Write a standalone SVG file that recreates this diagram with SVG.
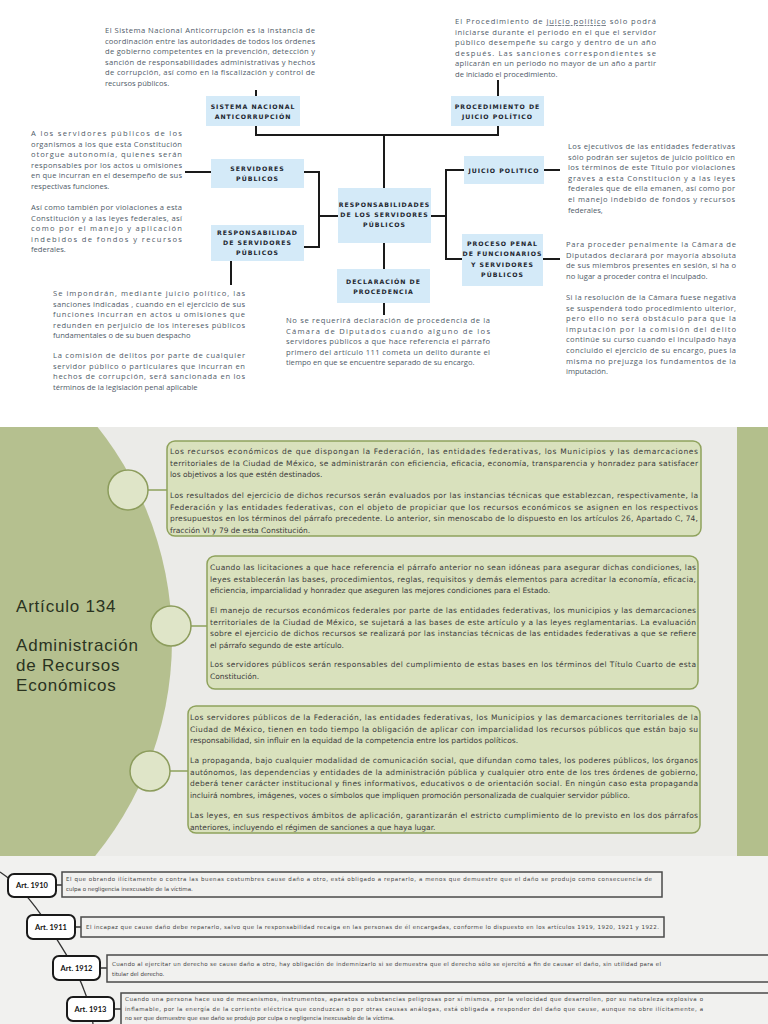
<svg xmlns="http://www.w3.org/2000/svg" width="768" height="1024" viewBox="0 0 768 1024">
<defs>
<style>
.t{font-family:"Open Sans","Liberation Sans",sans-serif;font-size:7.6px;fill:#4f5b68}
.bx{fill:#d4eaf8}
.bt{font-family:"DejaVu Sans","Liberation Sans",sans-serif;font-weight:bold;font-size:6.2px;letter-spacing:1px;fill:#1e2730;text-anchor:middle}
.cn{fill:none;stroke:#1a1a1a;stroke-width:2}
.g{font-family:"DejaVu Sans","Liberation Sans",sans-serif;font-size:7.5px;fill:#3c3c3c}
.gb{fill:#d9e1bd;stroke:#8fa25c;stroke-width:1.5}
.sc{fill:#dfe5c8;stroke:#8c9c5c;stroke-width:1.5}
.ttl{font-family:"Liberation Sans","Arial",sans-serif;font-size:17px;letter-spacing:0.8px;fill:#2a331f}
.al{fill:#ffffff;stroke:#1a1a1a;stroke-width:2}
.at{font-family:"Lato","Liberation Sans",sans-serif;font-weight:bold;font-size:7.5px;fill:#111;text-anchor:middle}
.ab{fill:none;stroke:#4a4a4a;stroke-width:1.5}
.s{font-family:"DejaVu Sans","Liberation Sans",sans-serif;font-size:5.5px;fill:#444}
</style>
<clipPath id="gs"><rect x="0" y="427" width="768" height="429"/></clipPath>
</defs>
<rect x="0" y="0" width="768" height="1024" fill="#ffffff"/>

<!-- TOP SECTION -->
<g id="connectors-top">
<path class="cn" d="M256 90V97M498 80V97M256 126V135H498V126M384 135V188"/>
<path class="cn" d="M185 172H211M304 172H319V247H304M319 216H338"/>
<path class="cn" d="M431 216H446M464 170H446V259H462M544 170H560M543 259H560"/>
<path class="cn" d="M384 243V270M384 303V315M231 261V285"/>
</g>

<g id="sna-text">
<text class="t" x="105" y="33" textLength="210" lengthAdjust="spacing">El Sistema Nacional Anticorrupción es la instancia de</text>
<text class="t" x="105" y="43.6" textLength="210" lengthAdjust="spacing">coordinación entre las autoridades de todos los órdenes</text>
<text class="t" x="105" y="54.2" textLength="210" lengthAdjust="spacing">de gobierno competentes en la prevención, detección y</text>
<text class="t" x="105" y="64.8" textLength="210" lengthAdjust="spacing">sanción de responsabilidades administrativas y hechos</text>
<text class="t" x="105" y="75.4" textLength="210" lengthAdjust="spacing">de corrupción, así como en la fiscalización y control de</text>
<text class="t" x="105" y="86">recursos públicos.</text>
</g>

<g id="pjp-text">
<text class="t" x="455" y="24" textLength="201" lengthAdjust="spacing">El Procedimiento de <tspan text-decoration="underline">juicio político</tspan> sólo podrá</text>
<text class="t" x="455" y="34.6" textLength="201" lengthAdjust="spacing">iniciarse durante el periodo en el que el servidor</text>
<text class="t" x="455" y="45.2" textLength="201" lengthAdjust="spacing">público desempeñe su cargo y dentro de un año</text>
<text class="t" x="455" y="55.8" textLength="201" lengthAdjust="spacing">después. Las sanciones correspondientes se</text>
<text class="t" x="455" y="66.4" textLength="201" lengthAdjust="spacing">aplicarán en un periodo no mayor de un año a partir</text>
<text class="t" x="455" y="77">de iniciado el procedimiento.</text>
</g>

<g id="node-sna">
<rect class="bx" x="206" y="96" width="94" height="30"/>
<text class="bt" x="253" y="108.5">SISTEMA NACIONAL</text>
<text class="bt" x="253" y="118.5">ANTICORRUPCIÓN</text>
</g>
<g id="node-pjp">
<rect class="bx" x="451" y="96" width="93" height="30"/>
<text class="bt" x="497.5" y="108.5">PROCEDIMIENTO DE</text>
<text class="bt" x="497.5" y="118.5">JUICIO POLÍTICO</text>
</g>
<g id="node-sp">
<rect class="bx" x="211" y="159" width="93" height="29"/>
<text class="bt" x="257.5" y="171">SERVIDORES</text>
<text class="bt" x="257.5" y="181">PÚBLICOS</text>
</g>
<g id="node-rsp">
<rect class="bx" x="211" y="225" width="93" height="36"/>
<text class="bt" x="257.5" y="235">RESPONSABILIDAD</text>
<text class="bt" x="257.5" y="245">DE SERVIDORES</text>
<text class="bt" x="257.5" y="255">PÚBLICOS</text>
</g>
<g id="node-center">
<rect class="bx" x="338" y="188" width="93" height="55"/>
<text class="bt" x="384.5" y="207">RESPONSABILIDADES</text>
<text class="bt" x="384.5" y="217">DE LOS SERVIDORES</text>
<text class="bt" x="384.5" y="227">PÚBLICOS</text>
</g>
<g id="node-jp">
<rect class="bx" x="464" y="156" width="80" height="28"/>
<text class="bt" x="504" y="172.5">JUICIO POLITICO</text>
</g>
<g id="node-pp">
<rect class="bx" x="462" y="234" width="81" height="52"/>
<text class="bt" x="502.5" y="246">PROCESO PENAL</text>
<text class="bt" x="502.5" y="256">DE FUNCIONARIOS</text>
<text class="bt" x="502.5" y="266.5">Y SERVIDORES</text>
<text class="bt" x="502.5" y="276.5">PÚBLICOS</text>
</g>
<g id="node-dp">
<rect class="bx" x="337" y="269" width="93" height="34"/>
<text class="bt" x="383.5" y="284">DECLARACIÓN DE</text>
<text class="bt" x="383.5" y="294">PROCEDENCIA</text>
</g>

<g id="left-text">
<text class="t" x="31" y="136" textLength="151" lengthAdjust="spacing">A los servidores públicos de los</text>
<text class="t" x="31" y="146.5" textLength="151" lengthAdjust="spacing">organismos a los que esta Constitución</text>
<text class="t" x="31" y="157" textLength="151" lengthAdjust="spacing">otorgue autonomía, quienes serán</text>
<text class="t" x="31" y="167.5" textLength="151" lengthAdjust="spacing">responsables por los actos u omisiones</text>
<text class="t" x="31" y="178" textLength="151" lengthAdjust="spacing">en que incurran en el desempeño de sus</text>
<text class="t" x="31" y="188.5">respectivas funciones.</text>
<text class="t" x="31" y="210" textLength="151" lengthAdjust="spacing">Así como también por violaciones a esta</text>
<text class="t" x="31" y="220.5" textLength="151" lengthAdjust="spacing">Constitución y a las leyes federales, así</text>
<text class="t" x="31" y="231" textLength="151" lengthAdjust="spacing">como por el manejo y aplicación</text>
<text class="t" x="31" y="241.5" textLength="151" lengthAdjust="spacing">indebidos de fondos y recursos</text>
<text class="t" x="31" y="252">federales.</text>
</g>

<g id="jp-text">
<text class="t" x="568" y="149" textLength="167" lengthAdjust="spacing">Los ejecutivos de las entidades federativas</text>
<text class="t" x="568" y="159.6" textLength="167" lengthAdjust="spacing">sólo podrán ser sujetos de juicio político en</text>
<text class="t" x="568" y="170.2" textLength="167" lengthAdjust="spacing">los términos de este Título por violaciones</text>
<text class="t" x="568" y="180.8" textLength="167" lengthAdjust="spacing">graves a esta Constitución y a las leyes</text>
<text class="t" x="568" y="191.4" textLength="167" lengthAdjust="spacing">federales que de ella emanen, así como por</text>
<text class="t" x="568" y="202" textLength="167" lengthAdjust="spacing">el manejo indebido de fondos y recursos</text>
<text class="t" x="568" y="212.6">federales,</text>
</g>

<g id="pp-text">
<text class="t" x="566" y="247" textLength="170" lengthAdjust="spacing">Para proceder penalmente la Cámara de</text>
<text class="t" x="566" y="257.6" textLength="170" lengthAdjust="spacing">Diputados declarará por mayoría absoluta</text>
<text class="t" x="566" y="268.2" textLength="170" lengthAdjust="spacing">de sus miembros presentes en sesión, si ha o</text>
<text class="t" x="566" y="278.8">no lugar a proceder contra el inculpado.</text>
<text class="t" x="566" y="300" textLength="170" lengthAdjust="spacing">Si la resolución de la Cámara fuese negativa</text>
<text class="t" x="566" y="310.6" textLength="170" lengthAdjust="spacing">se suspenderá todo procedimiento ulterior,</text>
<text class="t" x="566" y="321.2" textLength="170" lengthAdjust="spacing">pero ello no será obstáculo para que la</text>
<text class="t" x="566" y="331.8" textLength="170" lengthAdjust="spacing">imputación por la comisión del delito</text>
<text class="t" x="566" y="342.4" textLength="170" lengthAdjust="spacing">continúe su curso cuando el inculpado haya</text>
<text class="t" x="566" y="353" textLength="170" lengthAdjust="spacing">concluido el ejercicio de su encargo, pues la</text>
<text class="t" x="566" y="363.6" textLength="170" lengthAdjust="spacing">misma no prejuzga los fundamentos de la</text>
<text class="t" x="566" y="374.2">imputación.</text>
</g>

<g id="rsp-text">
<text class="t" x="53" y="296" textLength="192" lengthAdjust="spacing">Se impondrán, mediante juicio político, las</text>
<text class="t" x="53" y="306.6" textLength="192" lengthAdjust="spacing">sanciones indicadas , cuando en el ejercicio de sus</text>
<text class="t" x="53" y="317.2" textLength="192" lengthAdjust="spacing">funciones incurran en actos u omisiones que</text>
<text class="t" x="53" y="327.8" textLength="192" lengthAdjust="spacing">redunden en perjuicio de los intereses públicos</text>
<text class="t" x="53" y="338.4">fundamentales o de su buen despacho</text>
<text class="t" x="53" y="358" textLength="192" lengthAdjust="spacing">La comisión de delitos por parte de cualquier</text>
<text class="t" x="53" y="368.6" textLength="192" lengthAdjust="spacing">servidor público o particulares que incurran en</text>
<text class="t" x="53" y="379.2" textLength="192" lengthAdjust="spacing">hechos de corrupción, será sancionada en los</text>
<text class="t" x="53" y="389.8">términos de la legislación penal aplicable</text>
</g>

<g id="dp-text">
<text class="t" x="286" y="323" textLength="204" lengthAdjust="spacing">No se requerirá declaración de procedencia de la</text>
<text class="t" x="286" y="333.6" textLength="204" lengthAdjust="spacing">Cámara de Diputados cuando alguno de los</text>
<text class="t" x="286" y="344.2" textLength="204" lengthAdjust="spacing">servidores públicos a que hace referencia el párrafo</text>
<text class="t" x="286" y="354.8" textLength="204" lengthAdjust="spacing">primero del artículo 111 cometa un delito durante el</text>
<text class="t" x="286" y="365.4">tiempo en que se encuentre separado de su encargo.</text>
</g>

<!-- GREEN SECTION -->
<rect x="0" y="427" width="768" height="429" fill="#ebebe8"/>
<circle cx="-170" cy="640" r="342" fill="#b5c08f" clip-path="url(#gs)"/>
<rect x="737" y="427" width="31" height="429" fill="#b3bf8c"/>

<g id="connectors-green">
<path d="M148 490H167M190 626H207M170 771H188" fill="none" stroke="#8fa25c" stroke-width="1.5"/>
</g>

<g id="title">
<text class="ttl" x="16" y="612">Artículo 134</text>
<text class="ttl" x="16" y="651">Administración</text>
<text class="ttl" x="16" y="671">de Recursos</text>
<text class="ttl" x="16" y="691">Económicos</text>
</g>

<g id="circle1"><circle class="sc" cx="128" cy="490" r="20"/></g>
<g id="circle2"><circle class="sc" cx="171" cy="626" r="20"/></g>
<g id="circle3"><circle class="sc" cx="150" cy="771" r="20"/></g>

<g id="box1">
<rect class="gb" x="167" y="441" width="534" height="95" rx="8"/>
<text class="g" x="170" y="454" textLength="528" lengthAdjust="spacing">Los recursos económicos de que dispongan la Federación, las entidades federativas, los Municipios y las demarcaciones</text>
<text class="g" x="170" y="465.5" textLength="528" lengthAdjust="spacing">territoriales de la Ciudad de México, se administrarán con eficiencia, eficacia, economía, transparencia y honradez para satisfacer</text>
<text class="g" x="170" y="477">los objetivos a los que estén destinados.</text>
<text class="g" x="170" y="498" textLength="528" lengthAdjust="spacing">Los resultados del ejercicio de dichos recursos serán evaluados por las instancias técnicas que establezcan, respectivamente, la</text>
<text class="g" x="170" y="509.5" textLength="528" lengthAdjust="spacing">Federación y las entidades federativas, con el objeto de propiciar que los recursos económicos se asignen en los respectivos</text>
<text class="g" x="170" y="521" textLength="528" lengthAdjust="spacing">presupuestos en los términos del párrafo precedente. Lo anterior, sin menoscabo de lo dispuesto en los artículos 26, Apartado C, 74,</text>
<text class="g" x="170" y="532.5">fracción VI y 79 de esta Constitución.</text>
</g>

<g id="box2">
<rect class="gb" x="207" y="556" width="491" height="133" rx="8"/>
<text class="g" x="210" y="570" textLength="486" lengthAdjust="spacing">Cuando las licitaciones a que hace referencia el párrafo anterior no sean idóneas para asegurar dichas condiciones, las</text>
<text class="g" x="210" y="581.5" textLength="486" lengthAdjust="spacing">leyes establecerán las bases, procedimientos, reglas, requisitos y demás elementos para acreditar la economía, eficacia,</text>
<text class="g" x="210" y="593">eficiencia, imparcialidad y honradez que aseguren las mejores condiciones para el Estado.</text>
<text class="g" x="210" y="613" textLength="486" lengthAdjust="spacing">El manejo de recursos económicos federales por parte de las entidades federativas, los municipios y las demarcaciones</text>
<text class="g" x="210" y="624.5" textLength="486" lengthAdjust="spacing">territoriales de la Ciudad de México, se sujetará a las bases de este artículo y a las leyes reglamentarias. La evaluación</text>
<text class="g" x="210" y="636" textLength="486" lengthAdjust="spacing">sobre el ejercicio de dichos recursos se realizará por las instancias técnicas de las entidades federativas a que se refiere</text>
<text class="g" x="210" y="647.5">el párrafo segundo de este artículo.</text>
<text class="g" x="210" y="667" textLength="486" lengthAdjust="spacing">Los servidores públicos serán responsables del cumplimiento de estas bases en los términos del Título Cuarto de esta</text>
<text class="g" x="210" y="678.5">Constitución.</text>
</g>

<g id="box3">
<rect class="gb" x="188" y="706" width="512" height="127" rx="8"/>
<text class="g" x="190" y="720" textLength="508" lengthAdjust="spacing">Los servidores públicos de la Federación, las entidades federativas, los Municipios y las demarcaciones territoriales de la</text>
<text class="g" x="190" y="731.5" textLength="508" lengthAdjust="spacing">Ciudad de México, tienen en todo tiempo la obligación de aplicar con imparcialidad los recursos públicos que están bajo su</text>
<text class="g" x="190" y="743">responsabilidad, sin influir en la equidad de la competencia entre los partidos políticos.</text>
<text class="g" x="190" y="763" textLength="508" lengthAdjust="spacing">La propaganda, bajo cualquier modalidad de comunicación social, que difundan como tales, los poderes públicos, los órganos</text>
<text class="g" x="190" y="774.5" textLength="508" lengthAdjust="spacing">autónomos, las dependencias y entidades de la administración pública y cualquier otro ente de los tres órdenes de gobierno,</text>
<text class="g" x="190" y="786" textLength="508" lengthAdjust="spacing">deberá tener carácter institucional y fines informativos, educativos o de orientación social. En ningún caso esta propaganda</text>
<text class="g" x="190" y="797.5">incluirá nombres, imágenes, voces o símbolos que impliquen promoción personalizada de cualquier servidor público.</text>
<text class="g" x="190" y="818" textLength="508" lengthAdjust="spacing">Las leyes, en sus respectivos ámbitos de aplicación, garantizarán el estricto cumplimiento de lo previsto en los dos párrafos</text>
<text class="g" x="190" y="829.5">anteriores, incluyendo el régimen de sanciones a que haya lugar.</text>
</g>

<!-- BOTTOM SECTION -->
<rect x="0" y="856" width="768" height="168" fill="#f1f1ef"/>
<g id="connectors-bottom">
<path d="M0 872C20 885 35 905 48 925C62 948 76 968 84 990C90 1005 92 1015 93 1024" fill="none" stroke="#333" stroke-width="1.3"/>
<path d="M56 885H62M75 927H81M100 968H107M114 1009H121" fill="none" stroke="#333" stroke-width="1.3"/>
</g>

<g id="art1910">
<rect class="al" x="8" y="874" width="48" height="23" rx="6"/>
<text class="at" x="32" y="888">Art. 1910</text>
</g>
<g id="txt1910">
<rect class="ab" x="62" y="872" width="600" height="25"/>
<text class="s" x="66" y="881" textLength="586" lengthAdjust="spacing">El que obrando ilícitamente o contra las buenas costumbres cause daño a otro, está obligado a repararlo, a menos que demuestre que el daño se produjo como consecuencia de</text>
<text class="s" x="66" y="891">culpa o negligencia inexcusable de la víctima.</text>
</g>
<g id="art1911">
<rect class="al" x="27" y="915" width="48" height="24" rx="6"/>
<text class="at" x="51" y="929.5">Art. 1911</text>
</g>
<g id="txt1911">
<rect class="ab" x="81" y="917" width="583" height="20"/>
<text class="s" x="86" y="929" textLength="573" lengthAdjust="spacing">El incapaz que cause daño debe repararlo, salvo que la responsabilidad recaiga en las personas de él encargadas, conforme lo dispuesto en los artículos 1919, 1920, 1921 y 1922.</text>
</g>
<g id="art1912">
<rect class="al" x="53" y="956" width="47" height="24" rx="6"/>
<text class="at" x="76.5" y="970.5">Art. 1912</text>
</g>
<g id="txt1912">
<rect class="ab" x="107" y="955" width="670" height="27"/>
<text class="s" x="112" y="966" textLength="549" lengthAdjust="spacing">Cuando al ejercitar un derecho se cause daño a otro, hay obligación de indemnizarlo si se demuestra que el derecho sólo se ejercitó a fin de causar el daño, sin utilidad para el</text>
<text class="s" x="112" y="975.5">titular del derecho.</text>
</g>
<g id="art1913">
<rect class="al" x="67" y="997" width="47" height="24" rx="6"/>
<text class="at" x="90.5" y="1011.5">Art. 1913</text>
</g>
<g id="txt1913">
<rect class="ab" x="121" y="993" width="660" height="40"/>
<text class="s" x="125" y="1001" textLength="578" lengthAdjust="spacing">Cuando una persona hace uso de mecanismos, instrumentos, aparatos o substancias peligrosas por sí mismos, por la velocidad que desarrollen, por su naturaleza explosiva o</text>
<text class="s" x="125" y="1010.5" textLength="578" lengthAdjust="spacing">inflamable, por la energía de la corriente eléctrica que conduzcan o por otras causas análogas, está obligada a responder del daño que cause, aunque no obre ilícitamente, a</text>
<text class="s" x="125" y="1020">no ser que demuestre que ese daño se produjo por culpa o negligencia inexcusable de la víctima.</text>
</g>
</svg>
